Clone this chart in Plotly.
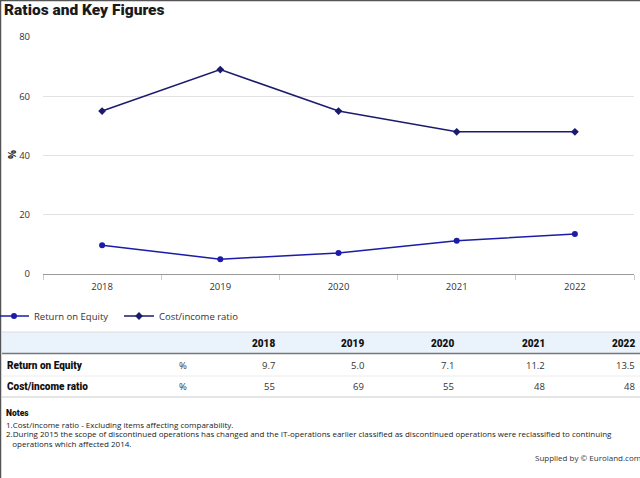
import plotly.graph_objects as go

years = ["2018", "2019", "2020", "2021", "2022"]
roe = [9.7, 5.0, 7.1, 11.2, 13.5]
cost_income = [55, 69, 55, 48, 48]
roe_text = ["9.7", "5.0", "7.1", "11.2", "13.5"]
ci_text = ["55", "69", "55", "48", "48"]
row_labels = ["Return on Equity", "Cost/income ratio"]
notes = [
    "1.Cost/income ratio - Excluding items affecting comparability.",
    "2.During 2015 the scope of discontinued operations has changed and the IT-operations earlier classified as discontinued operations were reclassified to continuing",
    "&nbsp;&nbsp;&nbsp;operations which affected 2014.",
]

W, H = 640, 478
L, R, T, B = 43, 634, 37, 274


def px(x):
    return (x - L) / (R - L)


def py(y):
    return (B - y) / (B - T)


FONT = "Open Sans"
BOLD = "Roboto"


def text(s, x, y, size=9.5, color="#333", xanchor="left", family=FONT, weight="normal", **kw):
    return dict(text=s, xref="paper", yref="paper", x=px(x), y=py(y), xanchor=xanchor, yanchor="middle",
                font=dict(family=family, size=size, color=color, weight=weight), showarrow=False, **kw)


def hline(y, color, width=1):
    return dict(type="line", xref="paper", yref="paper", x0=px(2), x1=px(640), y0=py(y), y1=py(y),
                line=dict(color=color, width=width))


fig = go.Figure()
fig.add_trace(go.Scatter(x=years, y=roe, name="Return on Equity", mode="lines+markers",
                         line=dict(color="#1c1ca8", width=1.5),
                         marker=dict(symbol="circle", size=6, color="#1c1ca8")))
fig.add_trace(go.Scatter(x=years, y=cost_income, name="Cost/income ratio", mode="lines+markers",
                         line=dict(color="#1b1b6e", width=1.5),
                         marker=dict(symbol="diamond", size=6, color="#1b1b6e")))

ann = []
shapes = []

# title and y title
ann.append(text("Ratios and Key Figures", 2, 10, size=15.5, color="#1a1a1a", family=BOLD, weight=900))
ann.append(text("%", 12, 155, size=10, color="#222", xanchor="center", weight="bold", textangle=-90))

# table
shapes.append(dict(type="rect", xref="paper", yref="paper", x0=px(2), x1=px(640), y0=py(353), y1=py(332),
                   fillcolor="#eaf2fc", line=dict(width=0), layer="below"))
shapes.append(hline(332, "#dcdcdc"))
shapes.append(hline(353.5, "#777", 1.5))
shapes.append(hline(376, "#ececec"))
shapes.append(hline(397, "#dcdcdc", 1.5))

col_right = [277, 366, 456, 547, 637]
row_y = [365, 386]
for i, yr in enumerate(years):
    ann.append(text(yr, col_right[i], 343, size=10, color="#111", xanchor="right", family=BOLD, weight=900))
    ann.append(text(roe_text[i], col_right[i], row_y[0], xanchor="right"))
    ann.append(text(ci_text[i], col_right[i], row_y[1], xanchor="right"))
for lab, ry in zip(row_labels, row_y):
    ann.append(text(lab, 5, ry, size=10, color="#111", family=BOLD, weight=900))
    ann.append(text("%", 183, ry, xanchor="center"))

# notes
ann.append(text("Notes", 4, 413, size=8.5, color="#111", family=BOLD, weight=900))
for k, n in enumerate(notes):
    ann.append(text(n, 4, 424 + 9.7 * k, size=8, color="#222"))
ann.append(text("Supplied by © Euroland.com", 643, 457, size=8, xanchor="right"))

# frame
shapes.append(dict(type="line", xref="paper", yref="paper", x0=px(0.5), x1=px(0.5), y0=py(0), y1=py(478),
                   line=dict(color="#555", width=1.5)))
shapes.append(dict(type="line", xref="paper", yref="paper", x0=px(0), x1=px(640), y0=py(0.5), y1=py(0.5),
                   line=dict(color="#555", width=1.5)))

fig.update_layout(
    width=W, height=H,
    margin=dict(l=L, r=W - R, t=T, b=H - B, autoexpand=False),
    paper_bgcolor="white", plot_bgcolor="white",
    font=dict(family=FONT, size=9.5, color="#333"),
    showlegend=True,
    legend=dict(orientation="h", x=px(-6), y=py(316), xanchor="left", yanchor="middle",
                font=dict(family=FONT, size=9.5, color="#333"), itemwidth=30, entrywidth=80,
                bgcolor="rgba(0,0,0,0)"),
    annotations=ann,
    shapes=shapes,
    xaxis=dict(type="category", range=[-0.5, 4.5], showgrid=False, showline=True, linecolor="#999",
               linewidth=1, ticks="outside", tickson="boundaries", ticklen=5, tickcolor="#ccc",
               ticklabelstandoff=4, tickfont=dict(size=9.5, color="#333"), fixedrange=True),
    yaxis=dict(range=[0, 80], dtick=20, showgrid=True, gridcolor="#e2e2e2", gridwidth=1, zeroline=False,
               showline=False, ticks="", ticklabelstandoff=12, tickfont=dict(size=9.5, color="#333"),
               fixedrange=True),
)

fig.write_html("out.html", config={"displayModeBar": False},
               post_script="document.body.style.margin='0';")
